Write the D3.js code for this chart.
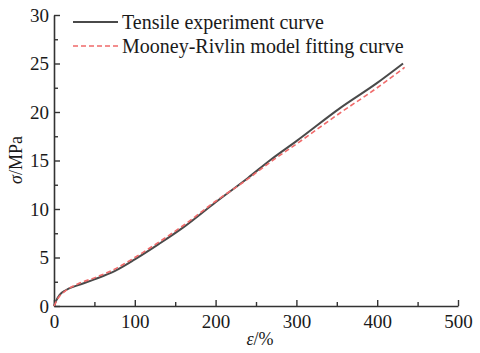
<!DOCTYPE html>
<html>
<head>
<meta charset="utf-8">
<script src="https://cdn.jsdelivr.net/npm/d3@7"></script>
<style>
  body { margin: 0; background: #fff; }
  svg text { font-family: "Liberation Serif", "Times New Roman", serif !important; fill: #1a1a1a; }
</style>
</head>
<body>
<div id="chart"></div>
<script>
// strain (%) and stress (MPa)
const expStrain = [0, 3, 7, 15, 30, 50, 75, 100, 130, 160, 200, 240, 267, 300, 354, 400, 432];
const expStress = [0, 0.6, 1.15, 1.65, 2.15, 2.75, 3.6, 4.8, 6.4, 8.1, 10.7, 13.2, 15.0, 17.0, 20.4, 23.0, 25.0];
const fitStrain = [0, 5, 15, 30, 50, 75, 100, 130, 160, 200, 240, 267, 300, 354, 400, 434];
const fitStress = [0, 0.8, 1.6, 2.3, 2.9, 3.8, 5.0, 6.6, 8.3, 10.8, 13.1, 14.8, 16.7, 19.9, 22.5, 24.6];
const seriesNames = ["Tensile experiment curve", "Mooney-Rivlin model fitting curve"];
const xTicks = [0, 100, 200, 300, 400, 500];
const yTicks = [0, 5, 10, 15, 20, 25, 30];

const W = 480, H = 353;
const margin = {top: 15, right: 22, bottom: 47, left: 54};
const width = W - margin.left - margin.right,
      height = H - margin.top - margin.bottom;
const serif = '"Liberation Serif", "Times New Roman", serif';

const svg = d3.select("#chart").append("svg")
  .attr("width", W).attr("height", H);
const g = svg.append("g")
  .attr("transform", `translate(${margin.left},${margin.top})`);

const x = d3.scaleLinear().domain([0, 500]).range([0, width]);
const y = d3.scaleLinear().domain([0, 30]).range([height, 0]);

// axes with inward ticks
const xAxis = g.append("g").attr("transform", `translate(0,${height})`)
  .call(d3.axisBottom(x).tickValues(xTicks).tickSize(-6).tickPadding(9).tickSizeOuter(0));
g.append("g").attr("transform", `translate(0,${height})`)
  .call(d3.axisBottom(x).tickValues(d3.range(50, 500, 100)).tickSize(-4).tickFormat("").tickSizeOuter(0))
  .select(".domain").remove();
const yAxis = g.append("g")
  .call(d3.axisLeft(y).tickValues(yTicks).tickSize(-6).tickPadding(5).tickSizeOuter(0));
g.append("g")
  .call(d3.axisLeft(y).tickValues(d3.range(2.5, 30, 5)).tickSize(-4).tickFormat("").tickSizeOuter(0))
  .select(".domain").remove();

g.selectAll("g").attr("font-family", serif);
g.selectAll(".domain").attr("stroke", "#333").attr("stroke-width", 1.6);
g.selectAll(".tick line").attr("stroke", "#333").attr("stroke-width", 1.4);
g.selectAll(".tick text")
  .attr("font-family", serif)
  .attr("font-size", 19)
  .attr("fill", "#1a1a1a");

// axis titles
svg.append("text")
  .attr("transform", `translate(22,${margin.top + 145}) rotate(-90)`)
  .attr("text-anchor", "middle")
  .attr("font-size", 18)
  .html('<tspan font-style="italic">σ</tspan>/MPa');
svg.append("text")
  .attr("x", 260).attr("y", 345)
  .attr("text-anchor", "middle")
  .attr("font-size", 18)
  .html('<tspan font-style="italic">ε</tspan>/%');

const line = d3.line().x(d => x(d[0])).y(d => y(d[1])).curve(d3.curveMonotoneX);

g.append("path")
  .datum(expStrain.map((s, i) => [s, expStress[i]]))
  .attr("fill", "none").attr("stroke", "#4a4a4a").attr("stroke-width", 2)
  .attr("d", line);
g.append("path")
  .datum(fitStrain.map((s, i) => [s, fitStress[i]]))
  .attr("fill", "none").attr("stroke", "#f06a6a").attr("stroke-width", 1.6)
  .attr("stroke-dasharray", "5,3")
  .attr("d", line);

// legend
const legend = svg.append("g").attr("transform", "translate(73,22)");
const styles = [
  {stroke: "#4a4a4a", width: 2, dash: null},
  {stroke: "#f06a6a", width: 1.6, dash: "5,3"}
];
seriesNames.forEach((name, i) => {
  const row = legend.append("g").attr("transform", `translate(0,${i * 24})`);
  row.append("line").attr("x1", 0).attr("x2", 45).attr("y1", 0).attr("y2", 0)
    .attr("stroke", styles[i].stroke).attr("stroke-width", styles[i].width)
    .attr("stroke-dasharray", styles[i].dash);
  row.append("text").attr("x", 49).attr("y", 7)
    .attr("font-size", 20).text(name);
});
</script>
</body>
</html>
